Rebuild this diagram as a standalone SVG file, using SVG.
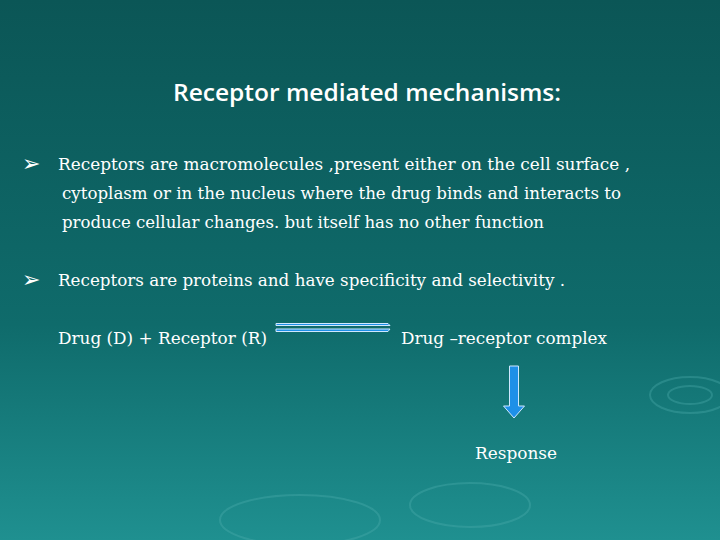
<svg xmlns="http://www.w3.org/2000/svg" width="720" height="540" viewBox="0 0 720 540">
<defs>
<linearGradient id="bg" x1="0" y1="0" x2="0" y2="1">
<stop offset="0" stop-color="#0b5656"/><stop offset="0.6" stop-color="#0f6b6b"/><stop offset="1" stop-color="#1f9090"/>
</linearGradient>
<style>
.t{font-family:"DejaVu Serif","Liberation Serif",serif;font-size:16px;fill:#fff}
.h{font-family:"Open Sans","Liberation Sans",sans-serif;font-size:24px;font-weight:600;fill:#fff}
.b{font-family:"DejaVu Sans",sans-serif;font-size:22px;fill:#fff}
.ar{fill:#1e90e8;stroke:#cfe8ff;stroke-width:1}
</style>
</defs>
<rect width="720" height="540" fill="url(#bg)"/>
<g fill="none" stroke="#4fb0b0" stroke-opacity="0.35" stroke-width="2">
<ellipse cx="690" cy="395" rx="40" ry="18"/><ellipse cx="690" cy="395" rx="22" ry="9"/>
<ellipse cx="470" cy="505" rx="60" ry="22"/><ellipse cx="300" cy="520" rx="80" ry="25"/>
</g>
<text class="h" x="173" y="101" textLength="388" lengthAdjust="spacingAndGlyphs">Receptor mediated mechanisms:</text>
<text class="b" x="22" y="171">➢</text>
<text class="t" x="58" y="170" textLength="572" lengthAdjust="spacingAndGlyphs">Receptors are macromolecules ,present either on the cell surface ,</text>
<text class="t" x="62" y="199" textLength="559" lengthAdjust="spacingAndGlyphs">cytoplasm or in the nucleus where the drug binds and interacts to</text>
<text class="t" x="62" y="228" textLength="482" lengthAdjust="spacingAndGlyphs">produce cellular changes. but itself has no other function</text>
<text class="b" x="22" y="287">➢</text>
<text class="t" x="58" y="286" textLength="507" lengthAdjust="spacingAndGlyphs">Receptors  are proteins and have specificity and selectivity .</text>
<text class="t" x="58" y="344" textLength="209" lengthAdjust="spacingAndGlyphs">Drug (D) + Receptor (R)</text>
<text class="t" x="401" y="344" textLength="206" lengthAdjust="spacingAndGlyphs">Drug –receptor complex</text>
<text class="t" x="475" y="459" textLength="82" lengthAdjust="spacingAndGlyphs">Response</text>
<g id="connectors">
<path class="ar" d="M276 323.5h112l2 2h-114z"/>
<path class="ar" d="M276 329h114l-2 2.5h-112z"/>
<path class="ar" d="M509.5 366h9v40h6l-10.5 12l-10.5-12h6z"/>
</g>
</svg>
